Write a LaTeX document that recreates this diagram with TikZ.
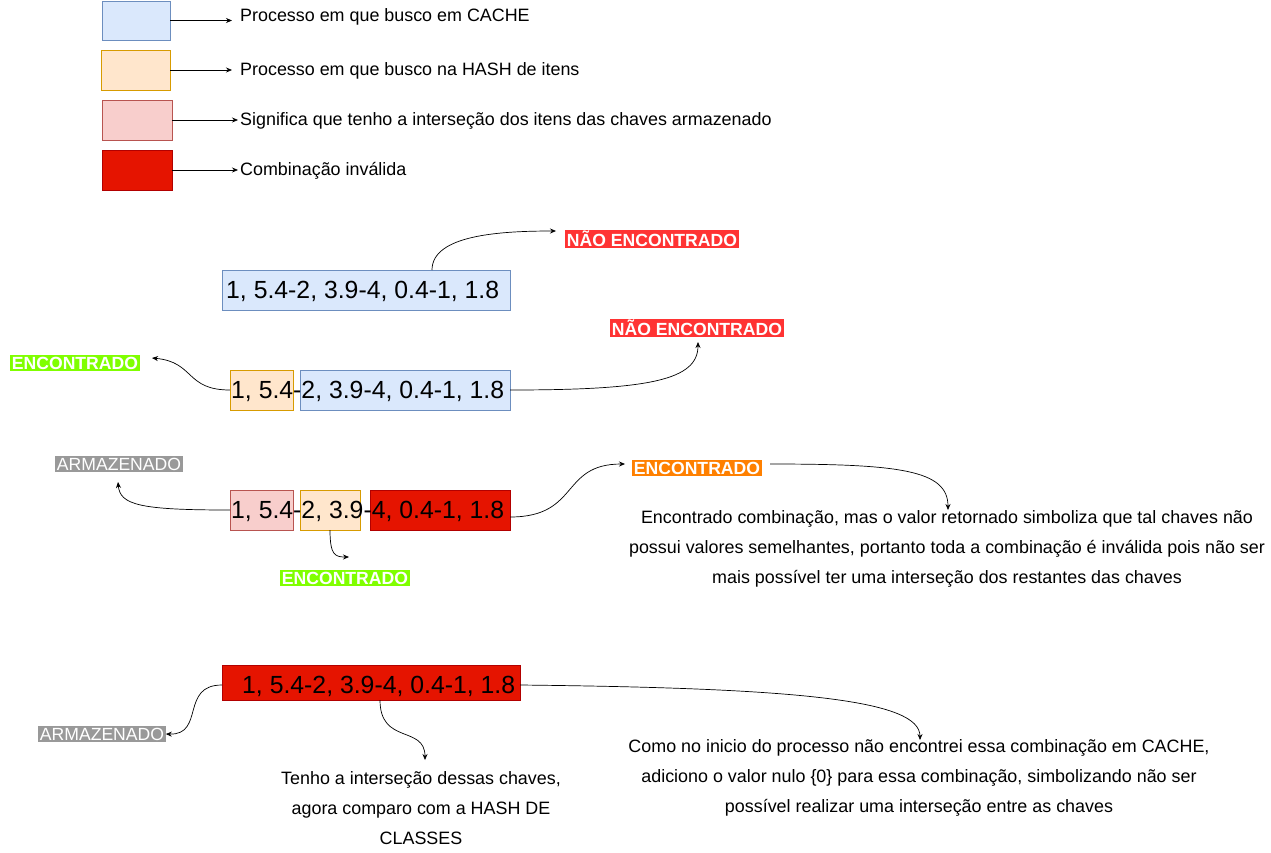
\documentclass[tikz,border=0pt]{standalone}
\usepackage{fontspec}
\setmainfont{Liberation Sans}
\usetikzlibrary{arrows.meta}
\definecolor{bF}{HTML}{DAE8FC}\definecolor{bS}{HTML}{6C8EBF}
\definecolor{oF}{HTML}{FFE6CC}\definecolor{oS}{HTML}{D79B00}
\definecolor{pF}{HTML}{F8CECC}\definecolor{pS}{HTML}{B85450}
\definecolor{rF}{HTML}{E51400}\definecolor{rS}{HTML}{B20000}
\definecolor{lRed}{HTML}{FF3333}\definecolor{lGreen}{HTML}{80FF00}
\definecolor{lGray}{HTML}{999999}\definecolor{lOr}{HTML}{FF8000}
\begin{document}
\begin{tikzpicture}[x=1pt,y=-1pt,
  bx/.style={draw=#1S,fill=#1F,line width=0.8pt},
  arr/.style={-{Stealth[length=6pt,width=5pt]},line width=0.7pt},
  leg/.style={anchor=west,font=\fontsize{17.9}{20}\selectfont,inner sep=0pt},
  big/.style={anchor=west,font=\fontsize{24.8}{28}\selectfont,inner sep=0pt},
  tag/.style={text=white,font=\bfseries\fontsize{17.6}{20}\selectfont,inner sep=1.5pt},
  tagn/.style={text=white,font=\fontsize{17.6}{20}\selectfont,inner sep=1.5pt},
  par/.style={align=center,font=\fontsize{17.9}{30}\selectfont,inner sep=0pt}]
\useasboundingbox (0,0) rectangle (1271,852);
% legend
\path[bx=b] (102,1) rectangle (170,40); \coordinate (l1) at (170,20.5);
\path[bx=o] (101,50) rectangle (170,90); \coordinate (l2) at (170,70);
\path[bx=p] (102,100) rectangle (172,140); \coordinate (l3) at (172,120);
\path[bx=r] (102,150) rectangle (172,190); \coordinate (l4) at (172,170);
\node[leg] (t1) at (240,17) {Processo em que busco em CACHE};
\node[leg] (t2) at (240,71) {Processo em que busco na HASH de itens};
\node[leg] (t3) at (240,121) {Significa que tenho a interseção dos itens das chaves armazenado};
\node[leg] (t4) at (240,171) {Combinação inválida};
\draw[arr] (l1) -- (232,20.5);
\draw[arr] (l2) -- (232,70);
\draw[arr] (l3) -- (238,120);
\draw[arr] (l4) -- (238,170);
% row 1
\path[bx=b] (222,270) rectangle (510,310);
\node[big] (r1) at (226,291) {1, 5.4-2, 3.9-4, 0.4-1, 1.8};
\node[tag,fill=lRed] (n1) at (652,239) {NÃO ENCONTRADO};
\coordinate (a1) at (432,270);
\draw[arr] (a1) .. controls (432,235) and (500,231) .. (556,231);
% row 2
\path[bx=o] (230,370) rectangle (293,410);
\path[bx=b] (300,370) rectangle (510,410);
\node[big] (r2) at (231,391) {1, 5.4-2, 3.9-4, 0.4-1, 1.8};
\node[tag,fill=lGreen] (e2) at (75,363) {ENCONTRADO};
\node[tag,fill=lRed] (n2) at (697,328) {NÃO ENCONTRADO};
\coordinate (a2) at (230,390); \coordinate (b2) at (510,390);
\draw[arr] (a2) .. controls (185,390) and (195,362) .. (152,358);
\draw[arr] (b2) .. controls (650,390) and (698,380) .. (698,342);
% row 3
\path[bx=p] (230,490) rectangle (293,530);
\path[bx=o] (300,490) rectangle (360,530);
\path[bx=r] (370,490) rectangle (510,530);
\node[big] (r3) at (231,511) {1, 5.4-2, 3.9-4, 0.4-1, 1.8};
\node[tagn,fill=lGray] (s3) at (119,464) {ARMAZENADO};
\node[tag,fill=lGreen] (e3) at (345,578) {ENCONTRADO};
\node[tag,fill=lOr] (o3) at (697,468) {ENCONTRADO};
\node[par] (p3) at (947,549) {Encontrado combinação, mas o valor retornado simboliza que tal chaves não\\possui valores semelhantes, portanto toda a combinação é inválida pois não ser\\mais possível ter uma interseção dos restantes das chaves};
\coordinate (a3) at (230,510); \coordinate (b3) at (330,530); \coordinate (c3) at (510,517);
\draw[arr] (a3) .. controls (140,510) and (120,505) .. (118,482);
\draw[arr] (b3) .. controls (330,555) and (335,557) .. (349,557);
\draw[arr] (c3) .. controls (580,517) and (560,464) .. (625,464);
\draw[arr] (770,464) .. controls (900,464) and (948,470) .. (948,510);
% row 4
\path[bx=r] (222,665) rectangle (520,700);
\node[big] (r4) at (242,686) {1, 5.4-2, 3.9-4, 0.4-1, 1.8};
\node[tagn,fill=lGray] (s4) at (102,734) {ARMAZENADO};
\node[par] (p4) at (421,808) {Tenho a interseção dessas chaves,\\agora comparo com a HASH DE\\CLASSES};
\node[par] (p5) at (919,778) {Como no inicio do processo não encontrei essa combinação em CACHE,\\adiciono o valor nulo \{0\} para essa combinação, simbolizando não ser\\possível realizar uma interseção entre as chaves};
\coordinate (a4) at (222,685); \coordinate (b4) at (380,700); \coordinate (c4) at (520,685);
\draw[arr] (a4) .. controls (180,685) and (205,735) .. (s4.east);
\draw[arr] (b4) .. controls (380,745) and (425,725) .. (425,760);
\draw[arr] (c4) .. controls (800,688) and (920,700) .. (920,740);
\end{tikzpicture}
\end{document}
